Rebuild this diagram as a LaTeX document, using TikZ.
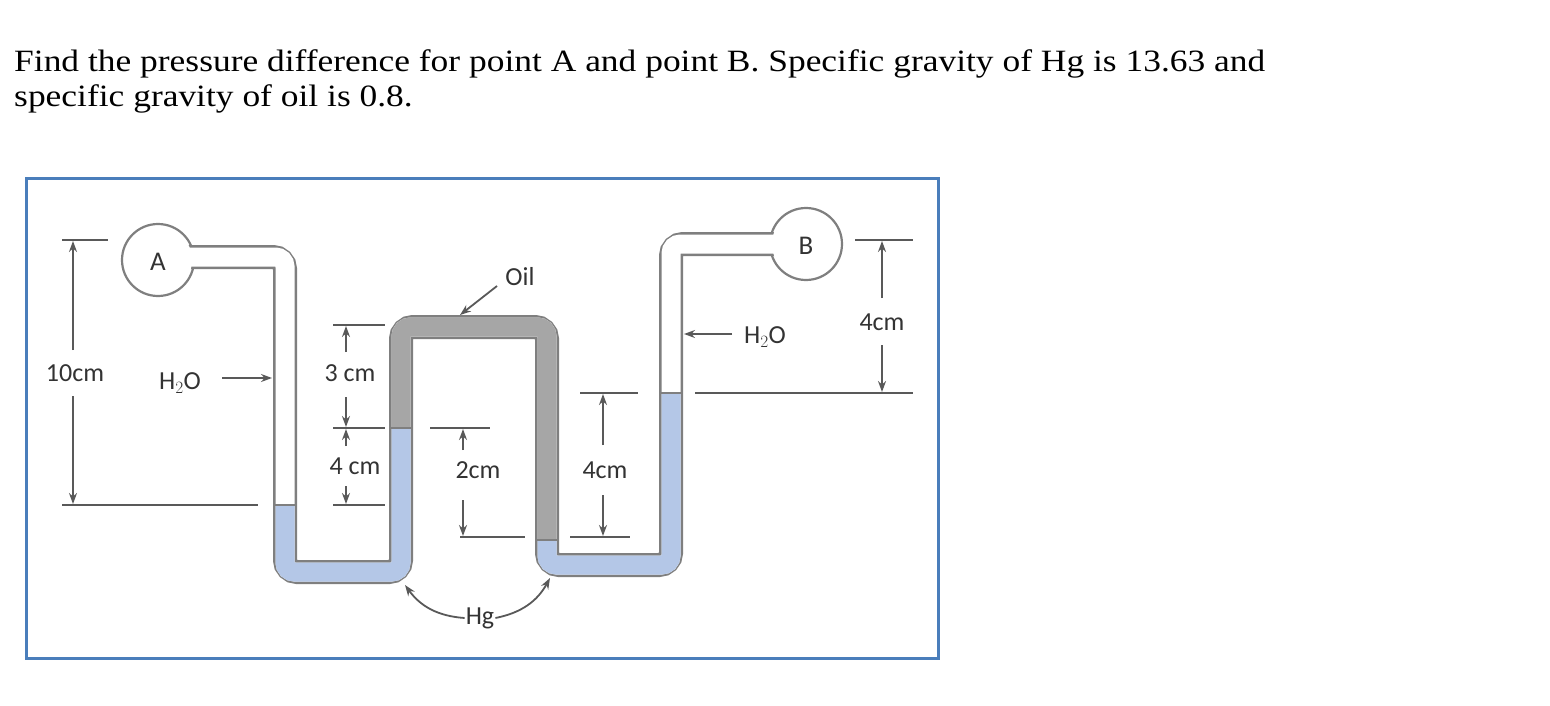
\documentclass[tikz,border=0pt]{standalone}
\usepackage{fontspec}
\setmainfont{Liberation Serif}
\newfontfamily\lab{Carlito}
\usetikzlibrary{arrows.meta}
\definecolor{frameblue}{HTML}{4A7EBB}
\definecolor{wall}{HTML}{7F7F7F}
\definecolor{hg}{HTML}{B4C7E7}
\definecolor{oil}{HTML}{A6A6A6}
\definecolor{dim}{HTML}{595959}
\tikzset{
  x=1pt,y=-1pt,
  lbl/.style={font=\lab\fontsize{26}{26}\selectfont,text=black!80,inner sep=1pt},
  dimline/.style={draw=dim,line width=1.8pt},
  arr/.style={dimline,-{Stealth[length=11pt,width=8pt]}},
  tubeout/.style={draw=wall,line width=24pt,rounded corners=12pt},
  tubein/.style={line width=19pt,rounded corners=9.5pt},
  title/.style={anchor=west,inner sep=0,font=\fontsize{31}{31}\selectfont,xscale=1.143},
}
\begin{document}
\begin{tikzpicture}
\useasboundingbox (0,0) rectangle (1550,706);
\node[title] (t1) at (14,64) {Find the pressure difference for point A and point B. Specific gravity of Hg is 13.63 and};
\node[title] (t2) at (14,99) {specific gravity of oil is 0.8.};
\draw[frameblue,line width=3pt] (26,178) rectangle (938,658);
% circles
\node[circle,draw=wall,line width=2.2pt,minimum size=72pt,inner sep=0,fill=white] (A) at (158,260) {};
\node[circle,draw=wall,line width=2.2pt,minimum size=72pt,inner sep=0,fill=white] (B) at (806,244) {};
% tube
\coordinate (p0) at (185,257);
\draw[tubeout] (p0) -- (285,257) -- (285,572) -- (401,572) -- (401,327) -- (547,327) -- (547,565) -- (671,565) -- (671,244) -- (780,244);
\draw[tubein,white] (p0) -- (285,257) -- (285,572) -- (401,572) -- (401,327) -- (547,327) -- (547,565) -- (671,565) -- (671,244) -- (780,244);
\draw[tubein,hg] (285,505) -- (285,572) -- (401,572) -- (401,428);
\draw[tubein,oil] (401,428) -- (401,327) -- (547,327) -- (547,540);
\draw[tubein,hg] (547,540) -- (547,565) -- (671,565) -- (671,393);
\foreach \x/\y in {285/505,401/428,547/540,671/393} \draw[wall,line width=1.4pt] (\x-10,\y) -- (\x+10,\y);
\node[circle,fill=white,minimum size=68pt,inner sep=0] at (A) {};
\node[circle,fill=white,minimum size=68pt,inner sep=0] at (B) {};
\node[lbl,font=\lab\fontsize{27}{27}\selectfont] (Al) at (158,262) {A};
\node[lbl,font=\lab\fontsize{27}{27}\selectfont] (Bl) at (806,246) {B};
% 10cm
\draw[dimline] (62,240) -- (108,240); \draw[dimline] (62,505) -- (258,505);
\node[lbl] (d10) at (75,373) {10cm};
\draw[arr] (73,350) -- (73,241);
\draw[arr] (73,396) -- (73,504);
\node[lbl] (w1) at (180,383) {H$_2$O};
\draw[arr] (222,378) -- (272,378);
% 3 cm / 4 cm
\draw[dimline] (333,325) -- (385,325); \draw[dimline] (333,428) -- (385,428); \draw[dimline] (333,505) -- (385,505);
\node[lbl] (d3) at (350,373) {3 cm};
\draw[arr] (346,352) -- (346,326); \draw[arr] (346,397) -- (346,427);
\node[lbl] (d4) at (355,466) {4 cm};
\draw[arr] (346,446) -- (346,429); \draw[arr] (346,486) -- (346,504);
% 2cm
\draw[dimline] (430,428) -- (490,428); \draw[dimline] (460,537) -- (525,537);
\node[lbl] (d2) at (478,470) {2cm};
\draw[arr] (463,450) -- (463,429); \draw[arr] (463,500) -- (463,536);
% 4cm mid
\draw[dimline] (580,393) -- (638,393); \draw[dimline] (570,537) -- (630,537);
\node[lbl] (d4b) at (605,470) {4cm};
\draw[arr] (603,445) -- (603,394); \draw[arr] (603,495) -- (603,536);
% 4cm right
\draw[dimline] (695,393) -- (913,393); \draw[dimline] (855,240) -- (913,240);
\node[lbl] (d4c) at (882,322) {4cm};
\draw[arr] (882,298) -- (882,241); \draw[arr] (882,345) -- (882,392);
\node[lbl] (w2) at (765,337) {H$_2$O};
\draw[arr] (732,334) -- (684,334);
% Oil
\node[lbl] (oill) at (520,277) {Oil};
\draw[arr] (497,286) -- (460,315);
% Hg
\node[lbl] (hgl) at (480,618) {Hg};
\draw[arr] (hgl.west) to[bend left=25] (405,585);
\draw[arr] (hgl.east) to[bend right=25] (550,578);
\end{tikzpicture}
\end{document}
